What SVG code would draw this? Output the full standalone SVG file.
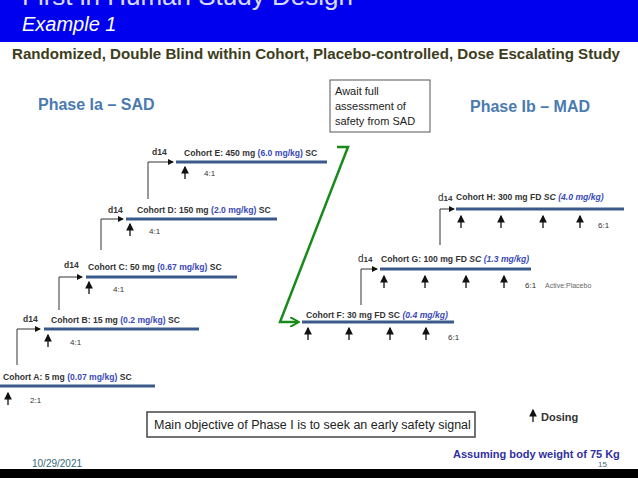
<svg xmlns="http://www.w3.org/2000/svg" width="638" height="478" viewBox="0 0 638 478">
<style>
text{font-family:"Liberation Sans",Arial,sans-serif}
.lb{font-size:8.6px;font-weight:bold;fill:#333}
.bl{fill:#3a4ab8}
.it{font-style:italic}
.tl{stroke:#3a5a8a;stroke-width:3}
.cn{fill:none;stroke:#333;stroke-width:1}
.ds{stroke:#111;stroke-width:1.3}
.rt{font-size:8px;fill:#333}
.d{font-size:8.5px;font-weight:bold;fill:#333}
.ph{font-size:16px;font-weight:bold;fill:#4a7ab0}
</style>
<defs>
<marker id="a" viewBox="0 0 6 6" refX="5" refY="3" markerWidth="6" markerHeight="6" orient="auto"><path d="M0,0L6,3L0,6z" fill="#111"/></marker>
<marker id="g" viewBox="0 0 10 10" refX="8" refY="5" markerWidth="4" markerHeight="4" orient="auto"><path d="M0,0L9,5L0,10" fill="none" stroke="#1a8a1a" stroke-width="2"/></marker>
</defs>
<rect width="638" height="478" fill="#fff"/>
<g id="header">
<rect x="0" y="0" width="638" height="42" fill="#0000ee"/>
<text x="22" y="5" font-size="26" fill="#fff" opacity="0.85">First in Human Study Design</text>
<text x="22" y="31" font-size="20" font-style="italic" fill="#fff">Example 1</text>
<text x="12" y="59" font-size="14.8" font-weight="bold" fill="#3d3d20" textLength="608" lengthAdjust="spacingAndGlyphs">Randomized, Double Blind within Cohort, Placebo-controlled, Dose Escalating Study</text>
</g>
<g id="phases">
<text x="38" y="110" class="ph">Phase Ia – SAD</text>
<text x="470" y="112" class="ph">Phase Ib – MAD</text>
</g>
<g id="await">
<rect x="330" y="80" width="100" height="52" fill="#fff" stroke="#555"/>
<text x="335" y="95" font-size="11" fill="#222">Await full</text>
<text x="335" y="110" font-size="11" fill="#222">assessment of</text>
<text x="335" y="125" font-size="11" fill="#222">safety from SAD</text>
</g>
<g id="connectors">
<polyline class="cn" points="17,365 17,329 40,329" marker-end="url(#a)"/>
<polyline class="cn" points="59,310 59,277 82,277" marker-end="url(#a)"/>
<polyline class="cn" points="101,250 101,219 123,219" marker-end="url(#a)"/>
<polyline class="cn" points="148,199 148,162 173,162" marker-end="url(#a)"/>
<polyline class="cn" points="361,305 361,269 377,269" marker-end="url(#a)"/>
<polyline class="cn" points="440,245 440,209 454,209" marker-end="url(#a)"/>
<polyline points="337,147 348,147 280,322 298,322" fill="none" stroke="#1a8a1a" stroke-width="2.5" marker-end="url(#g)"/>
</g>
<g id="cohortA">
<text x="3" y="380" class="lb">Cohort A: 5 mg <tspan class="bl">(0.07 mg/kg)</tspan> SC</text>
<line class="tl" x1="0" y1="386" x2="155" y2="386"/>
<line class="ds" x1="8" y1="405" x2="8" y2="393" marker-end="url(#a)"/>
<text x="30" y="403" class="rt">2:1</text>
</g>
<g id="cohortB">
<text x="23" y="322" class="d">d14</text>
<text x="51" y="323" class="lb">Cohort B: 15 mg <tspan class="bl">(0.2 mg/kg)</tspan> SC</text>
<line class="tl" x1="44" y1="329" x2="199" y2="329"/>
<line class="ds" x1="48" y1="347" x2="48" y2="335" marker-end="url(#a)"/>
<text x="70" y="345" class="rt">4:1</text>
</g>
<g id="cohortC">
<text x="64" y="268" class="d">d14</text>
<text x="88" y="270" class="lb">Cohort C: 50 mg <tspan class="bl">(0.67 mg/kg)</tspan> SC</text>
<line class="tl" x1="86" y1="277" x2="237" y2="277"/>
<line class="ds" x1="89" y1="294" x2="89" y2="282" marker-end="url(#a)"/>
<text x="113" y="292" class="rt">4:1</text>
</g>
<g id="cohortD">
<text x="108" y="213" class="d">d14</text>
<text x="137" y="213" class="lb">Cohort D: 150 mg <tspan class="bl">(2.0 mg/kg)</tspan> SC</text>
<line class="tl" x1="126" y1="219" x2="277" y2="219"/>
<line class="ds" x1="130" y1="236" x2="130" y2="224" marker-end="url(#a)"/>
<text x="149" y="234" class="rt">4:1</text>
</g>
<g id="cohortE">
<text x="152" y="155" class="d">d14</text>
<text x="184" y="156" class="lb">Cohort E: 450 mg <tspan class="bl">(6.0 mg/kg)</tspan> SC</text>
<line class="tl" x1="176" y1="162" x2="327" y2="162"/>
<line class="ds" x1="185" y1="179" x2="185" y2="167" marker-end="url(#a)"/>
<text x="204" y="176" class="rt">4:1</text>
</g>
<g id="cohortF">
<text x="306" y="318" class="lb">Cohort F: 30 mg FD SC <tspan class="bl it">(0.4 mg/kg)</tspan></text>
<line class="tl" x1="302" y1="322" x2="454" y2="322"/>
<g class="ds"><line x1="308" y1="340" x2="308" y2="328" marker-end="url(#a)"/><line x1="349" y1="340" x2="349" y2="328" marker-end="url(#a)"/><line x1="390" y1="340" x2="390" y2="328" marker-end="url(#a)"/><line x1="426" y1="340" x2="426" y2="328" marker-end="url(#a)"/></g>
<text x="448" y="340" class="rt" font-size="9">6:1</text>
</g>
<g id="cohortG">
<text x="358" y="262" font-size="10" fill="#333">d<tspan font-size="8" font-weight="bold">14</tspan></text>
<text x="381" y="262" class="lb" font-size="9.5">Cohort G: 100 mg FD <tspan class="it">SC</tspan> <tspan class="bl it">(1.3 mg/kg)</tspan></text>
<line class="tl" x1="380" y1="269" x2="531" y2="269"/>
<g class="ds"><line x1="384" y1="288" x2="384" y2="276" marker-end="url(#a)"/><line x1="425" y1="288" x2="425" y2="276" marker-end="url(#a)"/><line x1="466" y1="288" x2="466" y2="276" marker-end="url(#a)"/><line x1="504" y1="288" x2="504" y2="276" marker-end="url(#a)"/></g>
<text x="525" y="288" class="rt" font-size="9">6:1</text>
<text x="545" y="288" font-size="7" fill="#666">Active:Placebo</text>
</g>
<g id="cohortH">
<text x="438" y="201" font-size="10" fill="#333">d<tspan font-size="8" font-weight="bold">14</tspan></text>
<text x="456" y="200" class="lb" font-size="9.5">Cohort H: 300 mg FD <tspan class="it">SC</tspan> <tspan class="bl it">(4.0 mg/kg)</tspan></text>
<line class="tl" x1="456" y1="209" x2="624" y2="209"/>
<g class="ds"><line x1="461" y1="228" x2="461" y2="216" marker-end="url(#a)"/><line x1="501" y1="228" x2="501" y2="216" marker-end="url(#a)"/><line x1="543" y1="228" x2="543" y2="216" marker-end="url(#a)"/><line x1="580" y1="228" x2="580" y2="216" marker-end="url(#a)"/></g>
<text x="598" y="228" class="rt" font-size="9">6:1</text>
</g>
<g id="objective">
<rect x="147" y="412" width="328" height="25" fill="#fff" stroke="#444" stroke-width="1.5"/>
<text x="154" y="429" font-size="12.5" fill="#222">Main objective of Phase I is to seek an early safety signal</text>
</g>
<g id="legend">
<line class="ds" x1="533" y1="422" x2="533" y2="410" marker-end="url(#a)"/>
<text x="541" y="421" font-size="11" font-weight="bold" fill="#333">Dosing</text>
<text x="453" y="458" font-size="11" font-weight="bold" fill="#3030a0">Assuming body weight of 75 Kg</text>
</g>
<g id="footer">
<text x="32" y="467" font-size="10" font-family="'Liberation Serif',serif" fill="#3a6a7a">10/29/2021</text>
<text x="598" y="467" font-size="8" font-family="'Liberation Serif',serif" fill="#3a6a7a">15</text>
<rect x="0" y="469" width="638" height="9" fill="#000"/>
</g>
</svg>
